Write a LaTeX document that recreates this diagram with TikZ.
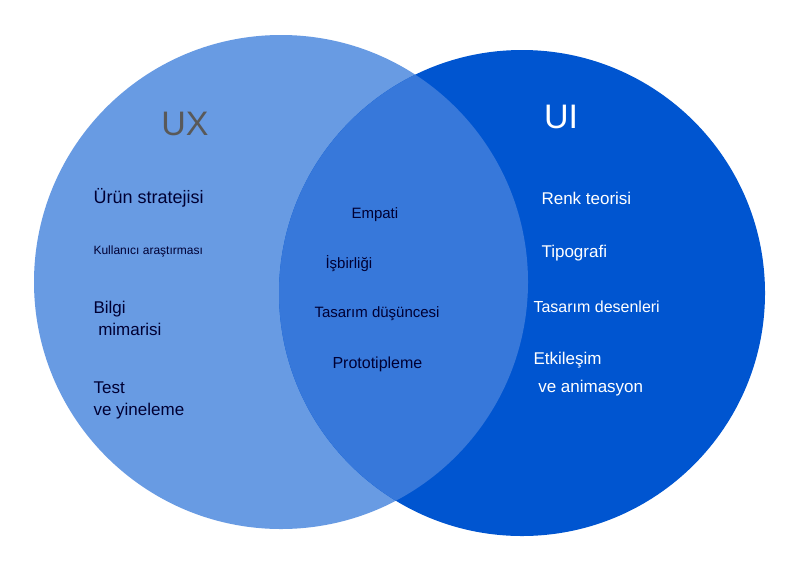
\documentclass[tikz,border=0pt]{standalone}
\usepackage{fontspec}
\setmainfont{Liberation Sans}
\begin{document}
\begin{tikzpicture}[x=1pt,y=-1pt,
  dk/.style={text=black!80!blue, anchor=west, align=left, font=\fontsize{15}{19}\selectfont},
  wt/.style={text=white, anchor=west, align=left, font=\fontsize{15}{19}\selectfont}]
\useasboundingbox (0,0) rectangle (799,565);
\fill[white] (0,0) rectangle (799,565);
\fill[color={rgb,255:red,104;green,155;blue,227}] (281,282) circle (247);
\fill[color={rgb,255:red,0;green,85;blue,208}] (522,293) circle (243);
\begin{scope}
\clip (281,282) circle (247);
\fill[color={rgb,255:red,55;green,120;blue,218}] (522,293) circle (243);
\end{scope}
\node[text=black!65, font=\fontsize{34}{40}\selectfont] (ux) at (185,124) {UX};
\node[text=white, font=\fontsize{34}{40}\selectfont] (ui) at (561,117) {UI};
\node[dk, font=\fontsize{18}{22}\selectfont] (a1) at (90,198) {Ürün stratejisi};
\node[dk, font=\fontsize{12}{15}\selectfont] (a2) at (90,251) {Kullanıcı araştırması};
\node[dk, font=\fontsize{17}{22}\selectfont] (a3) at (90,318) {Bilgi\\\ mimarisi};
\node[dk, font=\fontsize{17}{22}\selectfont] (a4) at (90,400) {Test\\ve yineleme};
\node[dk] (b1) at (348,215) {Empati};
\node[dk] (b2) at (322,264) {İşbirliği};
\node[dk] (b3) at (311,314) {Tasarım düşüncesi};
\node[dk, font=\fontsize{16}{20}\selectfont] (b4) at (329,364) {Prototipleme};
\node[wt, font=\fontsize{17}{22}\selectfont] (c1) at (538,198) {Renk teorisi};
\node[wt, font=\fontsize{17}{22}\selectfont] (c2) at (538,253) {Tipografi};
\node[wt, font=\fontsize{16}{20}\selectfont] (c3) at (530,307) {Tasarım desenleri};
\node[wt, font=\fontsize{17}{28}\selectfont] (c4) at (530,374) {Etkileşim\\\ ve animasyon};
\end{tikzpicture}
\end{document}
